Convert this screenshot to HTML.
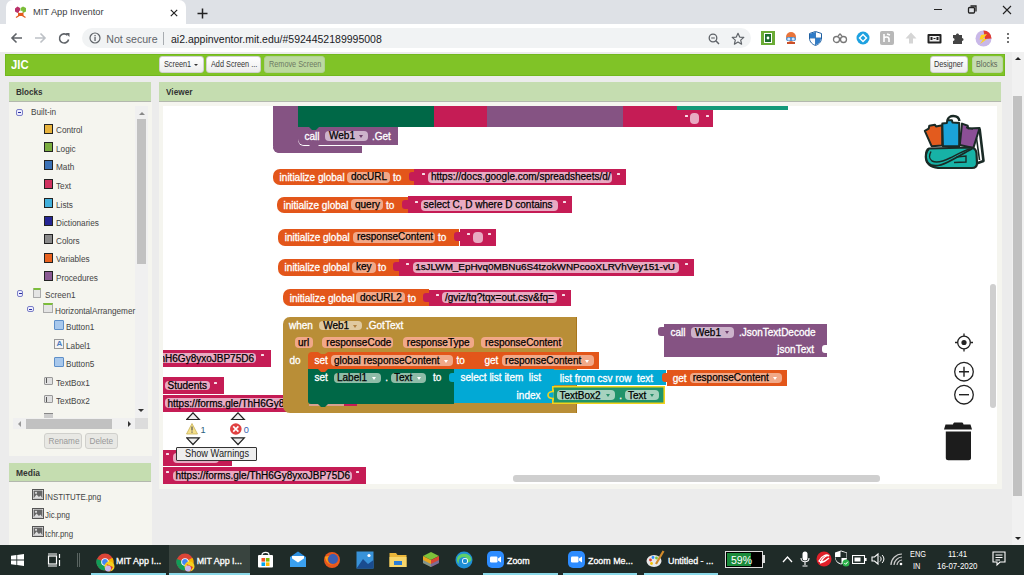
<!DOCTYPE html><html><head><meta charset="utf-8"><style>
*{margin:0;padding:0;box-sizing:border-box}
body{width:1024px;height:575px;overflow:hidden;position:relative;background:#ececec;font-family:"Liberation Sans",sans-serif}
div,span,svg{position:absolute}
.t{white-space:nowrap}
</style></head><body>
<div style="left:0px;top:0px;width:1024px;height:24px;background:#dee1e6;"></div>
<div style="left:6px;top:0;width:180px;height:24px;background:#fff;border-radius:7px 7px 0 0"></div>
<svg style="left:14px;top:5px" width="14" height="14" viewBox="0 0 14 14"><path d="M1 3.5 L3.5 1.5 L6 3 L6 6.5 L3.5 8 L1 6.5Z" fill="#b9316a"/><path d="M6.5 3 L9 1.5 L12 3 L12 6.5 L9 8 L6.5 6.5Z" fill="#7cbd3a"/><rect x="4" y="7.5" width="5.5" height="3.5" fill="#e35b1e"/><path d="M2 12.5 L6.7 9.5 L11.5 12.5" stroke="#e35b1e" stroke-width="1.3" fill="none"/><rect x="5" y="5.8" width="3.5" height="2" fill="#fff"/></svg>
<div class="t" style="left:33px;top:6px;height:12px;line-height:12px;font-size:9.3px;color:#3c4043;">MIT App Inventor</div>
<svg style="left:170px;top:8.5px" width="8" height="8" viewBox="0 0 8 8"><path d="M0.8 0.8 L7.2 7.2 M7.2 0.8 L0.8 7.2" stroke="#222" stroke-width="1.2"/></svg>
<svg style="left:197px;top:7.5px" width="11" height="11" viewBox="0 0 11 11"><path d="M5.5 0.5 V10.5 M0.5 5.5 H10.5" stroke="#222" stroke-width="1.5"/></svg>
<div style="left:934px;top:9.2px;width:8px;height:1.3px;background:#222;"></div>
<svg style="left:966px;top:4px" width="12" height="10" viewBox="0 0 12 10"><rect x="2.5" y="3.5" width="6" height="5.5" fill="none" stroke="#222" stroke-width="1.3" rx="1"/><path d="M4.5 2 H10 V7.5" fill="none" stroke="#222" stroke-width="1.3"/></svg>
<svg style="left:1002px;top:4.5px" width="10" height="10" viewBox="0 0 10 10"><path d="M1 1 L9 9 M9 1 L1 9" stroke="#222" stroke-width="1.1"/></svg>
<div style="left:0px;top:24px;width:1024px;height:28px;background:#fff;"></div>
<svg style="left:10px;top:32px" width="13" height="12" viewBox="0 0 13 12"><path d="M12 6 H2 M6.5 1.5 L2 6 L6.5 10.5" stroke="#5f6368" stroke-width="1.6" fill="none"/></svg>
<svg style="left:34px;top:32px" width="13" height="12" viewBox="0 0 13 12"><path d="M1 6 H11 M6.5 1.5 L11 6 L6.5 10.5" stroke="#bdc1c6" stroke-width="1.6" fill="none"/></svg>
<svg style="left:58px;top:31.5px" width="13" height="13" viewBox="0 0 13 13"><path d="M10.6 7.5 A4.6 4.6 0 1 1 9.4 3.2" stroke="#5f6368" stroke-width="1.6" fill="none"/><path d="M7.5 1 H11.5 V5 Z" fill="#5f6368"/></svg>
<div style="left:82px;top:27.7px;width:669px;height:20.5px;background:#f1f3f4;border-radius:10px"></div>
<svg style="left:89px;top:32px" width="12" height="12" viewBox="0 0 12 12"><circle cx="6" cy="6" r="5" fill="none" stroke="#5f6368" stroke-width="1.2"/><rect x="5.4" y="5" width="1.3" height="4" fill="#5f6368"/><rect x="5.4" y="3" width="1.3" height="1.3" fill="#5f6368"/></svg>
<div class="t" style="left:106.3px;top:33.2px;height:12px;line-height:12px;font-size:10.6px;color:#5f6368;">Not secure</div>
<div style="left:162.5px;top:32px;width:1.5px;height:12.5px;background:#a8acb0;"></div>
<div class="t" style="left:171px;top:32.8px;height:12px;line-height:12px;font-size:10.5px;color:#202124;">ai2.appinventor.mit.edu/#5924452189995008</div>
<svg style="left:708px;top:33px" width="12" height="12" viewBox="0 0 12 12"><circle cx="5" cy="5" r="3.8" fill="none" stroke="#5f6368" stroke-width="1.3"/><path d="M7.8 7.8 L11 11" stroke="#5f6368" stroke-width="1.5"/><path d="M3.2 5 H6.8" stroke="#5f6368" stroke-width="1.1"/></svg>
<svg style="left:731px;top:31.5px" width="14" height="14" viewBox="0 0 14 14"><path d="M7 1.3 L8.7 5.1 L12.8 5.4 L9.7 8.1 L10.6 12.2 L7 10 L3.4 12.2 L4.3 8.1 L1.2 5.4 L5.3 5.1 Z" fill="none" stroke="#5f6368" stroke-width="1.2" stroke-linejoin="round"/></svg>
<svg style="left:761px;top:31px" width="14" height="14" viewBox="0 0 14 14"><rect x="0" y="0" width="14" height="14" fill="#6aab35"/><rect x="3" y="2" width="8" height="10" fill="#fff"/><rect x="4" y="3" width="6" height="8" fill="#1d6b2f"/><circle cx="7" cy="7" r="1.4" fill="#fff"/></svg>
<svg style="left:784px;top:31px" width="14" height="14" viewBox="0 0 14 14"><circle cx="7" cy="6" r="5" fill="#e8743b"/><rect x="2" y="6" width="10" height="4" rx="2" fill="#4a8fd0"/><circle cx="4.8" cy="8" r="1.5" fill="#cfe6ff"/><circle cx="9.2" cy="8" r="1.5" fill="#cfe6ff"/><rect x="3" y="11" width="8" height="2" fill="#c94f2a"/></svg>
<svg style="left:809px;top:31px" width="13" height="15" viewBox="0 0 13 15"><path d="M6.5 0.5 L12.5 2.5 V7 C12.5 11 9.5 13.5 6.5 14.5 C3.5 13.5 0.5 11 0.5 7 V2.5 Z" fill="#fff" stroke="#1f5fa0" stroke-width="1"/><path d="M6.5 1 V14 M1 7 H12" stroke="#1f5fa0" stroke-width="0.8"/><path d="M1 2.7 L6.5 1 V7 H1Z M6.5 7 H12 C12 10.5 9.5 13 6.5 14Z" fill="#2f7cc8"/></svg>
<svg style="left:832px;top:32px" width="16" height="12" viewBox="0 0 16 12"><circle cx="4.5" cy="7.5" r="3" fill="none" stroke="#777" stroke-width="1.3"/><circle cx="11.5" cy="7.5" r="3" fill="none" stroke="#777" stroke-width="1.3"/><path d="M6 4 L8 2 L10 4" fill="none" stroke="#777" stroke-width="1.3"/></svg>
<svg style="left:856px;top:31px" width="14" height="14" viewBox="0 0 14 14"><circle cx="7" cy="7" r="6.5" fill="#1da1e0"/><path d="M7 2.5 L11.5 7 L7 11.5 L2.5 7Z" fill="#fff"/><path d="M7 4.5 L9.5 7 L7 9.5 L4.5 7Z" fill="#1da1e0"/></svg>
<svg style="left:880px;top:31px" width="14" height="14" viewBox="0 0 14 14"><rect x="0" y="0" width="14" height="14" rx="2" fill="#b8b8b8"/><path d="M4 3 V11 M4 7 C5 5.5 9 5.5 9 8 V11 M7 3 L10 4" stroke="#fff" stroke-width="1.6" fill="none"/></svg>
<svg style="left:904px;top:31px" width="14" height="14" viewBox="0 0 14 14"><path d="M7 1.5 L12.5 7.5 H9 V12.5 H5 V7.5 H1.5Z" fill="#d5d5d5"/></svg>
<svg style="left:927px;top:31.5px" width="15" height="13" viewBox="0 0 15 13"><rect x="0.5" y="2" width="14" height="9.5" rx="1" fill="#222"/><rect x="2.5" y="4" width="10" height="5.5" fill="#eee"/><rect x="3.5" y="5" width="2" height="3" fill="#222"/><rect x="9.5" y="5" width="2" height="3" fill="#222"/><rect x="6.5" y="6" width="2" height="1" fill="#222"/></svg>
<svg style="left:952px;top:31px" width="14" height="14" viewBox="0 0 14 14"><path d="M1 4 H4 C4 2 7 2 7 4 H10 V7 C12 7 12 10 10 10 V13 H1 V10 C3 10 3 7 1 7Z" fill="#444"/></svg>
<svg style="left:975px;top:29.5px" width="17" height="17" viewBox="0 0 17 17"><circle cx="8.5" cy="8.5" r="8" fill="#c9b8e8"/><path d="M8.5 0.5 A8 8 0 0 1 16.5 8.5 L10 9 Z" fill="#e23b2e"/><path d="M6 5 L12 4 L8 9 L12 9 L5 14 L8 9.5 L4.5 9.5Z" fill="#ffd21f"/></svg>
<div style="left:1007px;top:33px;width:2.2px;height:2.2px;background:#444;border-radius:1px"></div>
<div style="left:1007px;top:37px;width:2.2px;height:2.2px;background:#444;border-radius:1px"></div>
<div style="left:1007px;top:41px;width:2.2px;height:2.2px;background:#444;border-radius:1px"></div>
<div style="left:5px;top:54px;width:1000px;height:21.6px;background:#80c327;box-shadow:inset 0 0 0 1px #72b81e"></div>
<div class="t" style="left:11px;top:57.2px;height:16px;line-height:16px;font-size:13px;color:#fff;font-weight:bold;transform:scaleX(0.87);transform-origin:left">JIC</div>
<div style="left:159px;top:56.3px;width:44.5px;height:16.4px;background:linear-gradient(#fff,#ececec);border:1px solid #cfcfcf;border-radius:3px"></div>
<div class="t" style="left:163.5px;top:57.3px;height:13px;line-height:13px;font-size:9.5px;color:#333;transform:scaleX(0.768);transform-origin:left">Screen1</div>
<div style="left:194px;top:64px;width:0;height:0;border-left:2px solid transparent;border-right:2px solid transparent;border-top:2.5px solid #333"></div>
<div style="left:206.4px;top:56.3px;width:54.599999999999994px;height:16.4px;background:linear-gradient(#fff,#ececec);border:1px solid #cfcfcf;border-radius:3px"></div>
<div class="t" style="left:210.9px;top:57.3px;height:13px;line-height:13px;font-size:9.5px;color:#333;transform:scaleX(0.768);transform-origin:left">Add Screen ...</div>
<div style="left:264px;top:56.3px;width:61px;height:16.4px;background:#bcd9a0;border:1px solid #b0cf93;border-radius:3px"></div>
<div class="t" style="left:268.9px;top:57.3px;height:13px;line-height:13px;font-size:9.5px;color:#6d7a63;transform:scaleX(0.768);transform-origin:left">Remove Screen</div>
<div style="left:930px;top:56.3px;width:38px;height:16.4px;background:linear-gradient(#fff,#ececec);border:1px solid #cfcfcf;border-radius:3px"></div>
<div class="t" style="left:934.2px;top:57.3px;height:13px;line-height:13px;font-size:9.5px;color:#333;transform:scaleX(0.768);transform-origin:left">Designer</div>
<div style="left:972px;top:56.3px;width:30.700000000000045px;height:16.4px;background:#c5ddb0;border:1px solid #b9d3a2;border-radius:3px"></div>
<div class="t" style="left:976.3px;top:57.3px;height:13px;line-height:13px;font-size:9.5px;color:#5e6658;transform:scaleX(0.768);transform-origin:left">Blocks</div>
<div style="left:9px;top:82px;width:142px;height:19.5px;background:#c5ddb0;border-bottom:1px solid #b3b8ae"></div>
<div class="t" style="left:15.5px;top:84.3px;height:15px;line-height:15px;font-size:9.6px;color:#333;font-weight:bold;transform:scaleX(0.845);transform-origin:left">Blocks</div>
<div style="left:9px;top:101.5px;width:143px;height:354.5px;background:#f5f5ef;"></div>
<div style="left:135.2px;top:106px;width:12.5px;height:312px;background:#f0f0f0;"></div>
<div style="left:136.7px;top:119.2px;width:9.3px;height:145px;background:#c1c1c1;"></div>
<div style="left:138.5px;top:111.5px;width:0;height:0;border-left:3px solid transparent;border-right:3px solid transparent;border-bottom:3px solid #888"></div>
<div style="left:138px;top:409px;width:0;height:0;border-left:3.5px solid transparent;border-right:3.5px solid transparent;border-top:3.5px solid #333"></div>
<div style="left:13px;top:418px;width:122px;height:11.4px;background:#f0f0f0;"></div>
<div style="left:135px;top:418px;width:12.6px;height:11.4px;background:#dcdcdc;"></div>
<div style="left:25.6px;top:419px;width:86.8px;height:9.6px;background:#c1c1c1;"></div>
<div style="left:17.5px;top:420.5px;width:0;height:0;border-top:3px solid transparent;border-bottom:3px solid transparent;border-right:3px solid #999"></div>
<div style="left:127.5px;top:420.5px;width:0;height:0;border-top:3.5px solid transparent;border-bottom:3.5px solid transparent;border-left:3.5px solid #333"></div>
<div style="left:16.4px;top:109.3px;width:6.6px;height:6.6px;border:1px solid #7b7fc8;border-radius:2px;background:#eef"></div>
<div style="left:18.2px;top:112.1px;width:3px;height:1.1px;background:#2a2f9a;"></div>
<div class="t" style="left:30.5px;top:106.1px;height:12px;line-height:12px;font-size:9.02px;color:#444;transform:scaleX(0.91);transform-origin:left">Built-in</div>
<div style="left:44px;top:123.5px;width:9px;height:10px;background:#e8b33c;border:1px solid #222"></div>
<div class="t" style="left:55.5px;top:124.30000000000001px;height:12px;line-height:12px;font-size:9.02px;color:#444;transform:scaleX(0.91);transform-origin:left">Control</div>
<div style="left:44px;top:142.4px;width:9px;height:10px;background:#7aad3f;border:1px solid #222"></div>
<div class="t" style="left:55.5px;top:143.20000000000002px;height:12px;line-height:12px;font-size:9.02px;color:#444;transform:scaleX(0.91);transform-origin:left">Logic</div>
<div style="left:44px;top:160.3px;width:9px;height:10px;background:#3c72b6;border:1px solid #222"></div>
<div class="t" style="left:55.5px;top:161.10000000000002px;height:12px;line-height:12px;font-size:9.02px;color:#444;transform:scaleX(0.91);transform-origin:left">Math</div>
<div style="left:44px;top:178.7px;width:9px;height:10px;background:#d0315f;border:1px solid #222"></div>
<div class="t" style="left:55.5px;top:179.5px;height:12px;line-height:12px;font-size:9.02px;color:#444;transform:scaleX(0.91);transform-origin:left">Text</div>
<div style="left:44px;top:197.8px;width:9px;height:10px;background:#42b0dc;border:1px solid #222"></div>
<div class="t" style="left:55.5px;top:198.60000000000002px;height:12px;line-height:12px;font-size:9.02px;color:#444;transform:scaleX(0.91);transform-origin:left">Lists</div>
<div style="left:44px;top:215.8px;width:9px;height:10px;background:#252594;border:1px solid #222"></div>
<div class="t" style="left:55.5px;top:216.60000000000002px;height:12px;line-height:12px;font-size:9.02px;color:#444;transform:scaleX(0.91);transform-origin:left">Dictionaries</div>
<div style="left:44px;top:234.2px;width:9px;height:10px;background:#8a8a8a;border:1px solid #222"></div>
<div class="t" style="left:55.5px;top:235.0px;height:12px;line-height:12px;font-size:9.02px;color:#444;transform:scaleX(0.91);transform-origin:left">Colors</div>
<div style="left:44px;top:252.5px;width:9px;height:10px;background:#e8621f;border:1px solid #222"></div>
<div class="t" style="left:55.5px;top:253.3px;height:12px;line-height:12px;font-size:9.02px;color:#444;transform:scaleX(0.91);transform-origin:left">Variables</div>
<div style="left:44px;top:271.3px;width:9px;height:10px;background:#8a5a92;border:1px solid #222"></div>
<div class="t" style="left:55.5px;top:272.1px;height:12px;line-height:12px;font-size:9.02px;color:#444;transform:scaleX(0.91);transform-origin:left">Procedures</div>
<div style="left:16.8px;top:290.0px;width:6.6px;height:6.6px;border:1px solid #7b7fc8;border-radius:2px;background:#eef"></div>
<div style="left:18.6px;top:292.8px;width:3px;height:1.1px;background:#2a2f9a;"></div>
<div style="left:33.2px;top:287.5px;width:7.6px;height:10.3px;background:#e4e4e4;border:1px solid #aaa;border-top:2px solid #7cbd3a;border-radius:1px"></div>
<div class="t" style="left:44.5px;top:288.8px;height:12px;line-height:12px;font-size:9.02px;color:#444;transform:scaleX(0.91);transform-origin:left">Screen1</div>
<div style="left:27.1px;top:305.7px;width:6.6px;height:6.6px;border:1px solid #7b7fc8;border-radius:2px;background:#eef"></div>
<div style="left:28.900000000000002px;top:308.5px;width:3px;height:1.1px;background:#2a2f9a;"></div>
<div style="left:42.8px;top:303.2px;width:9.9px;height:10.3px;background:#e4e4e4;border:1px solid #aaa;border-top:2.5px solid #7cbd3a"></div>
<div class="t" style="left:54.8px;top:304.7px;height:12px;line-height:12px;font-size:9.02px;color:#444;transform:scaleX(0.91);transform-origin:left">HorizontalArrangemer</div>
<div style="left:54.4px;top:320.3px;width:9.3px;height:9.7px;background:#a8c8ec;border:1px solid #5e8fc8;border-radius:1px"></div>
<div class="t" style="left:66.3px;top:321.4px;height:12px;line-height:12px;font-size:9.02px;color:#444;transform:scaleX(0.91);transform-origin:left">Button1</div>
<div style="left:54.4px;top:338.8px;width:9.3px;height:10px;background:#f4f4f4;border:1px solid #999"></div>
<div class="t" style="left:56.4px;top:338.5px;height:10px;line-height:10px;font-size:8px;color:#4a7cc0;font-weight:bold">A</div>
<div class="t" style="left:66.3px;top:339.8px;height:12px;line-height:12px;font-size:9.02px;color:#444;transform:scaleX(0.91);transform-origin:left">Label1</div>
<div style="left:54.4px;top:357.4px;width:9.3px;height:9.7px;background:#a8c8ec;border:1px solid #5e8fc8;border-radius:1px"></div>
<div class="t" style="left:66.3px;top:357.9px;height:12px;line-height:12px;font-size:9.02px;color:#444;transform:scaleX(0.91);transform-origin:left">Button5</div>
<div style="left:43.6px;top:376.6px;width:9.4px;height:8px;background:#e0e0e0;border:1px solid #999;border-radius:1px"></div>
<div style="left:45.9px;top:378.1px;width:1px;height:5px;background:#555;"></div>
<div class="t" style="left:56px;top:376.5px;height:12px;line-height:12px;font-size:9.02px;color:#444;transform:scaleX(0.91);transform-origin:left">TextBox1</div>
<div style="left:43.6px;top:395px;width:9.4px;height:8px;background:#e0e0e0;border:1px solid #999;border-radius:1px"></div>
<div style="left:45.9px;top:396.5px;width:1px;height:5px;background:#555;"></div>
<div class="t" style="left:56px;top:394.5px;height:12px;line-height:12px;font-size:9.02px;color:#444;transform:scaleX(0.91);transform-origin:left">TextBox2</div>
<div style="left:43.6px;top:413px;width:9.4px;height:5px;background:#ccc;border-top:1px solid #888"></div>
<div style="left:43.6px;top:432.6px;width:38.4px;height:16.8px;background:#e8e8e4;border:1px solid #d0d0cc;border-radius:3px"></div>
<div class="t" style="left:48.5px;top:434.5px;height:13px;line-height:13px;font-size:8.2px;color:#999;">Rename</div>
<div style="left:85px;top:432.6px;width:32.6px;height:16.8px;background:#e8e8e4;border:1px solid #d0d0cc;border-radius:3px"></div>
<div class="t" style="left:89.5px;top:434.5px;height:13px;line-height:13px;font-size:8.2px;color:#999;">Delete</div>
<div style="left:9px;top:463px;width:142px;height:19.3px;background:#c5ddb0;border-bottom:1px solid #b3b8ae"></div>
<div class="t" style="left:16px;top:465.3px;height:15px;line-height:15px;font-size:9.6px;color:#333;font-weight:bold;transform:scaleX(0.88);transform-origin:left">Media</div>
<div style="left:9px;top:482.3px;width:143px;height:62.7px;background:#f5f5ef;"></div>
<svg style="left:32px;top:489.3px" width="12" height="11" viewBox="0 0 12 11"><rect x="0.5" y="0.5" width="11" height="10" fill="#fff" stroke="#555" stroke-width="1"/><rect x="1.5" y="1.5" width="9" height="8" fill="#666"/><path d="M1.5 9.5 L4.5 5.5 L7 8 L8.5 6.5 L10.5 9.5 Z" fill="#ddd"/><circle cx="4" cy="3.8" r="1.1" fill="#ddd"/></svg>
<div class="t" style="left:45.3px;top:490.5px;height:12px;line-height:12px;font-size:8.690000000000001px;color:#444;transform:scaleX(0.91);transform-origin:left">INSTITUTE.png</div>
<svg style="left:32px;top:508px" width="12" height="11" viewBox="0 0 12 11"><rect x="0.5" y="0.5" width="11" height="10" fill="#fff" stroke="#555" stroke-width="1"/><rect x="1.5" y="1.5" width="9" height="8" fill="#666"/><path d="M1.5 9.5 L4.5 5.5 L7 8 L8.5 6.5 L10.5 9.5 Z" fill="#ddd"/><circle cx="4" cy="3.8" r="1.1" fill="#ddd"/></svg>
<div class="t" style="left:45.3px;top:509.29999999999995px;height:12px;line-height:12px;font-size:8.690000000000001px;color:#444;transform:scaleX(0.91);transform-origin:left">Jic.png</div>
<svg style="left:32px;top:526.3px" width="12" height="11" viewBox="0 0 12 11"><rect x="0.5" y="0.5" width="11" height="10" fill="#fff" stroke="#555" stroke-width="1"/><rect x="1.5" y="1.5" width="9" height="8" fill="#666"/><path d="M1.5 9.5 L4.5 5.5 L7 8 L8.5 6.5 L10.5 9.5 Z" fill="#ddd"/><circle cx="4" cy="3.8" r="1.1" fill="#ddd"/></svg>
<div class="t" style="left:45.3px;top:527.5px;height:12px;line-height:12px;font-size:8.690000000000001px;color:#444;transform:scaleX(0.91);transform-origin:left">tchr.png</div>
<div style="left:159px;top:82px;width:842px;height:19.5px;background:#c5ddb0;border-bottom:1px solid #b3b8ae"></div>
<div class="t" style="left:165.8px;top:84.3px;height:15px;line-height:15px;font-size:9.6px;color:#333;font-weight:bold;transform:scaleX(0.86);transform-origin:left">Viewer</div>
<div style="left:159px;top:101.5px;width:843px;height:387px;background:#f5f5ef;"></div>
<div style="left:163px;top:106px;width:834px;height:378px;background:#fff;"></div>
<div style="left:163px;top:106px;width:834px;height:378px;overflow:hidden">
<div style="left:109.6px;top:-6px;width:25px;height:53.1px;background:#855383;border-bottom-left-radius:7px"></div>
<div style="left:109.6px;top:40.5px;width:89px;height:6.6px;background:#855383;border-bottom-left-radius:7px"></div>
<div style="left:134.6px;top:-6px;width:136.2px;height:27px;background:#006847;"></div>
<div style="left:270.8px;top:-6px;width:53.2px;height:27px;background:#c51c55;"></div>
<div style="left:324px;top:-6px;width:136px;height:27px;background:#855383;"></div>
<div style="left:460px;top:-6px;width:54px;height:27px;background:#c51c55;"></div>
<div style="left:514px;top:3.5px;width:36px;height:17.3px;background:#c51c55;"></div>
<div style="left:514px;top:0.4px;width:111px;height:3.4px;background:#15997a;"></div>
<div style="left:527.0px;top:6.7px;width:8.6px;height:11.1px;background:#e8aac2;border-radius:4px;"></div>
<div class="t" style="left:531px;top:6.25px;height:12px;line-height:12px;font-size:10px;color:#000;-webkit-text-stroke:0.25px #000"></div>
<div style="left:522px;top:8.5px;width:3px;height:2.2px;background:#f8e0ea;border-radius:0.5px"></div>
<div style="left:543px;top:8.5px;width:3px;height:2.2px;background:#f8e0ea;border-radius:0.5px"></div>
<div style="left:127px;top:21px;width:71.6px;height:26px;background:#855383;"></div>
<div style="left:134.8px;top:31.0px;width:64px;height:9px;border-left:1px solid #f4eef4;border-bottom:1.2px solid #fff;border-bottom-left-radius:6px"></div>
<div style="left:135px;top:21px;width:100px;height:17.6px;background:#855383;border-bottom-left-radius:6px"></div>
<div style="left:145.8px;top:21.0px;width:10px;height:0;border-top:3px solid #006847;border-left:3px solid transparent;border-right:3px solid transparent"></div>
<div style="left:145.8px;top:38.6px;width:10px;height:0;border-top:3px solid #855383;border-left:3px solid transparent;border-right:3px solid transparent"></div>
<div class="t" style="left:141.5px;top:24.9px;height:12px;line-height:12px;font-size:10px;color:#fff;-webkit-text-stroke:0.3px #fff">call</div>
<div style="left:162.0px;top:24.7px;width:43.4px;height:10.3px;background:#cdb3cb;border-radius:4px;"></div>
<div class="t" style="left:166px;top:24.25px;height:12px;line-height:12px;font-size:10px;color:#000;-webkit-text-stroke:0.25px #000">Web1</div>
<div style="left:196.4px;top:28.8px;width:0;height:0;border-left:2.5px solid transparent;border-right:2.5px solid transparent;border-top:3px solid #6d3f6b;"></div>
<div class="t" style="left:209px;top:24.9px;height:12px;line-height:12px;font-size:10px;color:#fff;-webkit-text-stroke:0.3px #fff">.Get</div>
<div style="left:110.2px;top:62.8px;width:141.2px;height:16.6px;background:#e3561a;border-radius:7px 0 0 7px"></div>
<div class="t" style="left:116.6px;top:66.1px;height:12px;line-height:12px;font-size:10px;color:#fff;-webkit-text-stroke:0.3px #fff">initialize global</div>
<div style="left:184.0px;top:65.7px;width:43.0px;height:11.3px;background:#f1a888;border-radius:4px;"></div>
<div class="t" style="left:188px;top:65.25px;height:12px;line-height:12px;font-size:10px;color:#000;-webkit-text-stroke:0.25px #000">docURL</div>
<div class="t" style="left:230px;top:66.1px;height:12px;line-height:12px;font-size:10px;color:#fff;-webkit-text-stroke:0.3px #fff">to</div>
<div style="left:251.4px;top:62.9px;width:211.6px;height:16.4px;background:#c51c55;"></div>
<div style="left:245.5px;top:66.0px;width:7px;height:9px;background:#c51c55;border-radius:3px 0 0 3px;"></div>
<div style="left:258.5px;top:66.5px;width:3px;height:2.2px;background:#f8e0ea;border-radius:0.5px"></div>
<div style="left:265.0px;top:65.7px;width:184.0px;height:11.0px;background:#e8aac2;border-radius:4px;"></div>
<div class="t" style="left:268px;top:65.25px;height:12px;line-height:12px;font-size:10px;color:#000;-webkit-text-stroke:0.25px #000">https://docs.google.com/spreadsheets/d/</div>
<div style="left:453.5px;top:66.5px;width:3px;height:2.2px;background:#f8e0ea;border-radius:0.5px"></div>
<div style="left:114px;top:90.5px;width:130.6px;height:16.6px;background:#e3561a;border-radius:7px 0 0 7px"></div>
<div class="t" style="left:120.5px;top:93.9px;height:12px;line-height:12px;font-size:10px;color:#fff;-webkit-text-stroke:0.3px #fff">initialize global</div>
<div style="left:188.0px;top:93.4px;width:32.0px;height:11.0px;background:#f1a888;border-radius:4px;"></div>
<div class="t" style="left:192px;top:92.95px;height:12px;line-height:12px;font-size:10px;color:#000;-webkit-text-stroke:0.25px #000">query</div>
<div class="t" style="left:223px;top:93.9px;height:12px;line-height:12px;font-size:10px;color:#fff;-webkit-text-stroke:0.3px #fff">to</div>
<div style="left:244.6px;top:90.4px;width:164.2px;height:17px;background:#c51c55;"></div>
<div style="left:238.6px;top:93.7px;width:7px;height:9px;background:#c51c55;border-radius:3px 0 0 3px;"></div>
<div style="left:251.5px;top:94.5px;width:3px;height:2.2px;background:#f8e0ea;border-radius:0.5px"></div>
<div style="left:257.6px;top:93.5px;width:137.4px;height:11.1px;background:#e8aac2;border-radius:4px;"></div>
<div class="t" style="left:260.6px;top:93.05px;height:12px;line-height:12px;font-size:10px;color:#000;-webkit-text-stroke:0.25px #000">select C, D where D contains</div>
<div style="left:399.5px;top:94.5px;width:3px;height:2.2px;background:#f8e0ea;border-radius:0.5px"></div>
<div style="left:115.3px;top:122.8px;width:180.3px;height:17.2px;background:#e3561a;border-radius:7px 0 0 7px"></div>
<div class="t" style="left:121.7px;top:126.4px;height:12px;line-height:12px;font-size:10px;color:#fff;-webkit-text-stroke:0.3px #fff">initialize global</div>
<div style="left:189.9px;top:125.8px;width:82.0px;height:11.0px;background:#f1a888;border-radius:4px;"></div>
<div class="t" style="left:193.9px;top:125.35px;height:12px;line-height:12px;font-size:10px;color:#000;-webkit-text-stroke:0.25px #000">responseContent</div>
<div class="t" style="left:274.9px;top:126.4px;height:12px;line-height:12px;font-size:10px;color:#fff;-webkit-text-stroke:0.3px #fff">to</div>
<div style="left:296.8px;top:123px;width:36.2px;height:16.6px;background:#c51c55;"></div>
<div style="left:290.8px;top:126.3px;width:7px;height:9px;background:#c51c55;border-radius:3px 0 0 3px;"></div>
<div style="left:304px;top:127.0px;width:3px;height:2.2px;background:#f8e0ea;border-radius:0.5px"></div>
<div style="left:310.0px;top:126.0px;width:9.5px;height:10.5px;background:#e8aac2;border-radius:4px;"></div>
<div class="t" style="left:314px;top:125.55px;height:12px;line-height:12px;font-size:10px;color:#000;-webkit-text-stroke:0.25px #000"></div>
<div style="left:324.5px;top:127.0px;width:3px;height:2.2px;background:#f8e0ea;border-radius:0.5px"></div>
<div style="left:115.2px;top:152.8px;width:120.8px;height:17px;background:#e3561a;border-radius:7px 0 0 7px"></div>
<div class="t" style="left:121.6px;top:156.3px;height:12px;line-height:12px;font-size:10px;color:#fff;-webkit-text-stroke:0.3px #fff">initialize global</div>
<div style="left:189.0px;top:155.8px;width:23.5px;height:11.0px;background:#f1a888;border-radius:4px;"></div>
<div class="t" style="left:193px;top:155.35px;height:12px;line-height:12px;font-size:10px;color:#000;-webkit-text-stroke:0.25px #000">key</div>
<div class="t" style="left:215px;top:156.3px;height:12px;line-height:12px;font-size:10px;color:#fff;-webkit-text-stroke:0.3px #fff">to</div>
<div style="left:236px;top:153px;width:294.6px;height:16.6px;background:#c51c55;"></div>
<div style="left:230.0px;top:156.2px;width:7px;height:9px;background:#c51c55;border-radius:3px 0 0 3px;"></div>
<div style="left:243px;top:157.0px;width:3px;height:2.2px;background:#f8e0ea;border-radius:0.5px"></div>
<div style="left:249.7px;top:155.8px;width:266.8px;height:11.0px;background:#e8aac2;border-radius:4px;"></div>
<div class="t" style="left:252.2px;top:155.35px;height:12px;line-height:12px;font-size:9.9px;color:#000;-webkit-text-stroke:0.25px #000">1sJLWM_EpHvq0MBNu6S4tzokWNPcooXLRVhVey151-vU</div>
<div style="left:521.5px;top:157.0px;width:3px;height:2.2px;background:#f8e0ea;border-radius:0.5px"></div>
<div style="left:120.3px;top:183px;width:145.7px;height:17px;background:#e3561a;border-radius:7px 0 0 7px"></div>
<div class="t" style="left:126.7px;top:186.5px;height:12px;line-height:12px;font-size:10px;color:#fff;-webkit-text-stroke:0.3px #fff">initialize global</div>
<div style="left:193.0px;top:186.0px;width:48.7px;height:11.0px;background:#f1a888;border-radius:4px;"></div>
<div class="t" style="left:197px;top:185.55px;height:12px;line-height:12px;font-size:10px;color:#000;-webkit-text-stroke:0.25px #000">docURL2</div>
<div class="t" style="left:244.7px;top:186.5px;height:12px;line-height:12px;font-size:10px;color:#fff;-webkit-text-stroke:0.3px #fff">to</div>
<div style="left:266px;top:183.5px;width:142.3px;height:16.5px;background:#c51c55;"></div>
<div style="left:260.0px;top:186.7px;width:7px;height:9px;background:#c51c55;border-radius:3px 0 0 3px;"></div>
<div style="left:273px;top:187.5px;width:3px;height:2.2px;background:#f8e0ea;border-radius:0.5px"></div>
<div style="left:279.0px;top:186.2px;width:114.7px;height:11.0px;background:#e8aac2;border-radius:4px;"></div>
<div class="t" style="left:282px;top:185.75px;height:12px;line-height:12px;font-size:10px;color:#000;-webkit-text-stroke:0.25px #000">/gviz/tq?tqx=out.csv&amp;fq=</div>
<div style="left:398.5px;top:187.5px;width:3px;height:2.2px;background:#f8e0ea;border-radius:0.5px"></div>
<div style="left:0px;top:243.5px;width:107.6px;height:17.2px;background:#c51c55;"></div>
<div style="left:-43.0px;top:247.2px;width:136.4px;height:9.8px;background:#e8aac2;border-radius:4px;"></div>
<div class="t" style="left:-83.5px;top:246.75px;height:12px;line-height:12px;font-size:10px;color:#000;-webkit-text-stroke:0.25px #000">https://forms.gle/ThH6Gy8yxoJBP75D6</div>
<div style="left:97.5px;top:248.0px;width:3px;height:2.2px;background:#f8e0ea;border-radius:0.5px"></div>
<div style="left:0px;top:271.3px;width:60.7px;height:16.7px;background:#c51c55;"></div>
<div style="left:1.5px;top:274.6px;width:45.3px;height:9.8px;background:#e8aac2;border-radius:4px;"></div>
<div class="t" style="left:4.5px;top:274.15px;height:12px;line-height:12px;font-size:10px;color:#000;-webkit-text-stroke:0.25px #000">Students</div>
<div style="left:51px;top:275.5px;width:3px;height:2.2px;background:#f8e0ea;border-radius:0.5px"></div>
<div style="left:0px;top:288.5px;width:125px;height:17.2px;background:#c51c55;"></div>
<div style="left:1.5px;top:292.4px;width:135.5px;height:10.1px;background:#e8aac2;border-radius:4px;"></div>
<div class="t" style="left:4.5px;top:291.95px;height:12px;line-height:12px;font-size:10px;color:#000;-webkit-text-stroke:0.25px #000">https://forms.gle/ThH6Gy8yxoJBP75D6</div>
<div style="left:119.7px;top:211.4px;width:294px;height:95.2px;background:#b98e37;border-radius:7px 0 0 7px;box-shadow:inset -1px 0 0 #a8761c"></div>
<div class="t" style="left:126px;top:213.5px;height:12px;line-height:12px;font-size:10px;color:#fff;-webkit-text-stroke:0.3px #fff">when</div>
<div style="left:156.2px;top:214.7px;width:42.6px;height:9.8px;background:#e0c9a0;border-radius:4px;"></div>
<div class="t" style="left:160.2px;top:214.25px;height:12px;line-height:12px;font-size:10px;color:#000;-webkit-text-stroke:0.25px #000">Web1</div>
<div style="left:189.8px;top:218.6px;width:0;height:0;border-left:2.5px solid transparent;border-right:2.5px solid transparent;border-top:3px solid #b08040;"></div>
<div class="t" style="left:203px;top:213.5px;height:12px;line-height:12px;font-size:10px;color:#fff;-webkit-text-stroke:0.3px #fff">.GotText</div>
<div style="left:132.0px;top:231.3px;width:18.4px;height:10.7px;background:#f1a888;border-radius:4px;"></div>
<div class="t" style="left:135px;top:230.85px;height:12px;line-height:12px;font-size:10px;color:#000;-webkit-text-stroke:0.25px #000">url</div>
<div style="left:159.3px;top:231.3px;width:71.1px;height:10.7px;background:#f1a888;border-radius:4px;"></div>
<div class="t" style="left:163.3px;top:230.85px;height:12px;line-height:12px;font-size:10px;color:#000;-webkit-text-stroke:0.25px #000">responseCode</div>
<div style="left:239.8px;top:231.3px;width:71.7px;height:10.7px;background:#f1a888;border-radius:4px;"></div>
<div class="t" style="left:243.8px;top:230.85px;height:12px;line-height:12px;font-size:10px;color:#000;-webkit-text-stroke:0.25px #000">responseType</div>
<div style="left:318.0px;top:231.3px;width:82.4px;height:10.7px;background:#f1a888;border-radius:4px;"></div>
<div class="t" style="left:322px;top:230.85px;height:12px;line-height:12px;font-size:10px;color:#000;-webkit-text-stroke:0.25px #000">responseContent</div>
<div class="t" style="left:126.5px;top:248.7px;height:12px;line-height:12px;font-size:10px;color:#fff;-webkit-text-stroke:0.3px #fff">do</div>
<div style="left:146px;top:297.6px;width:48px;height:2.6px;background:#d7a08f;"></div>
<div style="left:181px;top:297.6px;width:13px;height:2.6px;background:#c51c55;"></div>
<div style="left:145px;top:245.8px;width:168px;height:17px;background:#e3561a;border-top-left-radius:4px"></div>
<div style="left:155.0px;top:245.8px;width:10px;height:0;border-top:2.5px solid #b98e37;border-left:3px solid transparent;border-right:3px solid transparent"></div>
<div class="t" style="left:151.5px;top:249.0px;height:12px;line-height:12px;font-size:10px;color:#fff;-webkit-text-stroke:0.3px #fff">set</div>
<div style="left:168.0px;top:249.3px;width:121.6px;height:10.4px;background:#f1a888;border-radius:4px;"></div>
<div class="t" style="left:171px;top:248.85px;height:12px;line-height:12px;font-size:10px;color:#000;-webkit-text-stroke:0.25px #000">global responseContent</div>
<div style="left:280.6px;top:253.5px;width:0;height:0;border-left:2.5px solid transparent;border-right:2.5px solid transparent;border-top:3px solid #fff;"></div>
<div class="t" style="left:293.5px;top:249.0px;height:12px;line-height:12px;font-size:10px;color:#fff;-webkit-text-stroke:0.3px #fff">to</div>
<div style="left:313px;top:246px;width:122.6px;height:17px;background:#e3561a;"></div>
<div style="left:307.0px;top:249.5px;width:7px;height:9px;background:#e3561a;border-radius:3px 0 0 3px;"></div>
<div class="t" style="left:321.5px;top:249.0px;height:12px;line-height:12px;font-size:10px;color:#fff;-webkit-text-stroke:0.3px #fff">get</div>
<div style="left:339.1px;top:249.3px;width:92.2px;height:10.4px;background:#f1a888;border-radius:4px;"></div>
<div class="t" style="left:342.1px;top:248.85px;height:12px;line-height:12px;font-size:10px;color:#000;-webkit-text-stroke:0.25px #000">responseContent</div>
<div style="left:422.3px;top:253.5px;width:0;height:0;border-left:2.5px solid transparent;border-right:2.5px solid transparent;border-top:3px solid #fff;"></div>
<div style="left:145px;top:262.6px;width:145.7px;height:35.2px;background:#006847;border-bottom-left-radius:3px"></div>
<div style="left:155.0px;top:262.6px;width:10px;height:0;border-top:3px solid #e3561a;border-left:3px solid transparent;border-right:3px solid transparent"></div>
<div class="t" style="left:151.5px;top:265.7px;height:12px;line-height:12px;font-size:10px;color:#fff;-webkit-text-stroke:0.3px #fff">set</div>
<div style="left:171.0px;top:266.5px;width:47.0px;height:10.2px;background:#8fbca8;border-radius:4px;"></div>
<div class="t" style="left:174px;top:266.05px;height:12px;line-height:12px;font-size:10px;color:#000;-webkit-text-stroke:0.25px #000">Label1</div>
<div style="left:209.0px;top:270.6px;width:0;height:0;border-left:2.5px solid transparent;border-right:2.5px solid transparent;border-top:3px solid #fff;"></div>
<div class="t" style="left:222.2px;top:265.7px;height:12px;line-height:12px;font-size:10px;color:#fff;-webkit-text-stroke:0.3px #fff">.</div>
<div style="left:228.0px;top:266.5px;width:35.2px;height:10.2px;background:#8fbca8;border-radius:4px;"></div>
<div class="t" style="left:231px;top:266.05px;height:12px;line-height:12px;font-size:10px;color:#000;-webkit-text-stroke:0.25px #000">Text</div>
<div style="left:254.2px;top:270.6px;width:0;height:0;border-left:2.5px solid transparent;border-right:2.5px solid transparent;border-top:3px solid #fff;"></div>
<div class="t" style="left:270px;top:265.7px;height:12px;line-height:12px;font-size:10px;color:#fff;-webkit-text-stroke:0.3px #fff">to</div>
<div style="left:154.5px;top:297.6px;width:10px;height:0;border-top:3px solid #006847;border-left:3px solid transparent;border-right:3px solid transparent"></div>
<div style="left:290.7px;top:263.3px;width:100px;height:34.2px;background:#02a9d5;"></div>
<div style="left:285.5px;top:266.5px;width:7px;height:9px;background:#02a9d5;border-radius:3px 0 0 3px;"></div>
<div class="t" style="left:297.5px;top:266.1px;height:12px;line-height:12px;font-size:10px;color:#fff;-webkit-text-stroke:0.3px #fff">select list item&nbsp; list</div>
<div class="t" style="left:353.6px;top:283.9px;height:12px;line-height:12px;font-size:10px;color:#fff;-webkit-text-stroke:0.3px #fff">index</div>
<div style="left:390.3px;top:263.6px;width:112.3px;height:15.8px;background:#02a9d5;"></div>
<div style="left:385.0px;top:266.5px;width:7px;height:9px;background:#02a9d5;border-radius:3px 0 0 3px;"></div>
<div class="t" style="left:396.8px;top:266.7px;height:12px;line-height:12px;font-size:10px;color:#fff;-webkit-text-stroke:0.3px #fff">list from csv row&nbsp; text</div>
<div style="left:504px;top:263.6px;width:119.7px;height:16.4px;background:#e3561a;"></div>
<div style="left:498.5px;top:266.5px;width:7px;height:9px;background:#e3561a;border-radius:3px 0 0 3px;"></div>
<div class="t" style="left:509.7px;top:266.9px;height:12px;line-height:12px;font-size:10px;color:#fff;-webkit-text-stroke:0.3px #fff">get</div>
<div style="left:526.7px;top:266.7px;width:92.7px;height:10.3px;background:#f1a888;border-radius:4px;"></div>
<div class="t" style="left:529.7px;top:266.25px;height:12px;line-height:12px;font-size:10px;color:#000;-webkit-text-stroke:0.25px #000">responseContent</div>
<div style="left:610.4px;top:270.9px;width:0;height:0;border-left:2.5px solid transparent;border-right:2.5px solid transparent;border-top:3px solid #fff;"></div>
<div style="left:389px;top:280px;width:112.9px;height:17.7px;background:#1f936a;box-shadow:inset 0 0 0 1.6px #f2d31b"></div>
<svg style="left:384px;top:282.5px" width="7" height="12" viewBox="0 0 7 12"><path d="M6.5 0.5 V2.5 C3 2.5 1 3.5 1 6 C1 8.5 3 9.5 6.5 9.5 V11.5" fill="#02a9d5" stroke="#f2d31b" stroke-width="1.6"/></svg>
<div style="left:393.5px;top:284.4px;width:58.4px;height:9.8px;background:#a6d2bf;border-radius:4px;"></div>
<div class="t" style="left:396.5px;top:283.95px;height:12px;line-height:12px;font-size:10px;color:#000;-webkit-text-stroke:0.25px #000">TextBox2</div>
<div style="left:442.9px;top:288.3px;width:0;height:0;border-left:2.5px solid transparent;border-right:2.5px solid transparent;border-top:3px solid #2a8f6c;"></div>
<div class="t" style="left:456.2px;top:283.9px;height:12px;line-height:12px;font-size:10px;color:#fff;-webkit-text-stroke:0.3px #fff">.</div>
<div style="left:462.0px;top:284.4px;width:34.3px;height:9.8px;background:#a6d2bf;border-radius:4px;"></div>
<div class="t" style="left:465px;top:283.95px;height:12px;line-height:12px;font-size:10px;color:#000;-webkit-text-stroke:0.25px #000">Text</div>
<div style="left:487.3px;top:288.3px;width:0;height:0;border-left:2.5px solid transparent;border-right:2.5px solid transparent;border-top:3px solid #2a8f6c;"></div>
<div style="left:500.7px;top:217.8px;width:163.1px;height:33.2px;background:#855383;"></div>
<div style="left:495.2px;top:221.0px;width:7px;height:9px;background:#855383;border-radius:3px 0 0 3px;"></div>
<div class="t" style="left:507.5px;top:221.4px;height:12px;line-height:12px;font-size:10px;color:#fff;-webkit-text-stroke:0.3px #fff">call</div>
<div style="left:528.0px;top:221.0px;width:43.4px;height:10.5px;background:#cdb3cb;border-radius:4px;"></div>
<div class="t" style="left:532px;top:220.55px;height:12px;line-height:12px;font-size:10px;color:#000;-webkit-text-stroke:0.25px #000">Web1</div>
<div style="left:562.4px;top:225.2px;width:0;height:0;border-left:2.5px solid transparent;border-right:2.5px solid transparent;border-top:3px solid #6d3f6b;"></div>
<div class="t" style="left:575.9px;top:221.4px;height:12px;line-height:12px;font-size:10px;color:#fff;-webkit-text-stroke:0.3px #fff">.JsonTextDecode</div>
<div class="t" style="left:614.3px;top:238.1px;height:12px;line-height:12px;font-size:10px;color:#fff;-webkit-text-stroke:0.3px #fff">jsonText</div>
<div style="left:658.5px;top:239px;width:5.3px;height:8px;background:#fff;border-radius:3px 0 0 3px"></div>
<div style="left:0px;top:343.8px;width:69px;height:16.2px;background:#c51c55;"></div>
<div style="left:3px;top:347.0px;width:3px;height:2.2px;background:#f8e0ea;border-radius:0.5px"></div>
<div style="left:9.5px;top:346.6px;width:46.5px;height:10.8px;background:#e8aac2;border-radius:4px;"></div>
<div class="t" style="left:13.5px;top:346.15px;height:12px;line-height:12px;font-size:10px;color:#000;-webkit-text-stroke:0.25px #000"></div>
<div style="left:0px;top:361px;width:102.8px;height:16.8px;background:#c51c55;"></div>
<div style="left:0px;top:361px;width:202.8px;height:16.8px;background:#c51c55;"></div>
<div style="left:3px;top:364.5px;width:3px;height:2.2px;background:#f8e0ea;border-radius:0.5px"></div>
<div style="left:9.5px;top:364.5px;width:179.3px;height:10.7px;background:#e8aac2;border-radius:4px;"></div>
<div class="t" style="left:12.5px;top:364.05px;height:12px;line-height:12px;font-size:10px;color:#000;-webkit-text-stroke:0.25px #000">https://forms.gle/ThH6Gy8yxoJBP75D6</div>
<div style="left:192.6px;top:364.5px;width:3px;height:2.2px;background:#f8e0ea;border-radius:0.5px"></div>
<svg style="left:23px;top:306px" width="80" height="50" viewBox="0 0 80 50"><path d="M0.7 7.5 L7 0.8 L13.3 7.5 Z" fill="#eee" stroke="#222" stroke-width="1.2"/><path d="M45.7 7.5 L52 0.8 L58.3 7.5 Z" fill="#eee" stroke="#222" stroke-width="1.2"/><path d="M0.7 25.8 L7 32.5 L13.3 25.8 Z" fill="#eee" stroke="#222" stroke-width="1.2"/><path d="M45.7 25.8 L52 32.5 L58.3 25.8 Z" fill="#eee" stroke="#222" stroke-width="1.2"/><path d="M6 11.5 L11.5 22 L0.5 22 Z" fill="#f5e08a" stroke="#c9b45a" stroke-width="0.8"/><rect x="5.4" y="14.5" width="1.2" height="4" fill="#555"/><rect x="5.4" y="19.5" width="1.2" height="1.2" fill="#555"/><circle cx="49.8" cy="17" r="5.8" fill="#e04040"/><path d="M47.2 14.4 L52.4 19.6 M52.4 14.4 L47.2 19.6" stroke="#fff" stroke-width="1.6"/></svg>
<div class="t" style="left:37.5px;top:318.2px;height:12px;line-height:12px;font-size:9.2px;color:#2a5f80;">1</div>
<div class="t" style="left:80.8px;top:318.2px;height:12px;line-height:12px;font-size:9.2px;color:#3a60b0;">0</div>
<div style="left:13px;top:341.3px;width:81px;height:13.3px;background:#eee;border:1px solid #333;border-radius:1px"></div>
<div class="t" style="left:21.5px;top:341.9px;height:12px;line-height:12px;font-size:10px;color:#222;transform:scaleX(0.92);transform-origin:left">Show Warnings</div>
<div style="left:826.5px;top:178.3px;width:6.2px;height:124px;background:#cfcfcf;border-radius:3px"></div>
<div style="left:350px;top:369px;width:367px;height:6.6px;background:#cfcfcf;border-radius:3px"></div>
</div>
<svg style="left:920px;top:112px" width="66" height="62" viewBox="0 0 66 62"><path d="M27.5 8.5 C28 2.5 38.5 2.5 39.5 9" fill="none" stroke="#1a2a26" stroke-width="2.4"/><path d="M59.6 16.6 L63.5 49 L56.5 51.5" fill="none" stroke="#1a2a26" stroke-width="2.6" stroke-linejoin="round"/><path d="M56.5 26 L59.5 48" fill="none" stroke="#1a2a26" stroke-width="1.6"/><path d="M4.8 18.9 L8.7 16.6 L9.3 13.8 L15 12.7 L16 14.4 L22.3 13.3 L22.3 33.6 L11.6 34.2 Z" fill="#e35b1e" stroke="#1a2a26" stroke-width="2" stroke-linejoin="round"/><path d="M22.3 11.6 L26.8 11 L27.4 8.2 L31.9 8.2 L32.5 10.4 L39.2 11 L39.2 34.2 L22.9 34.2 Z" fill="#1ba3d9" stroke="#1a2a26" stroke-width="2" stroke-linejoin="round"/><path d="M42 11.6 L47.7 13.8 L48.3 16.6 L59.6 16 L53.4 35.9 L39.8 33 Z" fill="#8b4f96" stroke="#1a2a26" stroke-width="2" stroke-linejoin="round"/><path d="M46 15.5 L53 17" stroke="#1a2a26" stroke-width="1.6"/><path d="M9 36.5 L50 35.5 C54 35.5 56 37 56.5 41 L57 51 C57 54.5 55 56 52 56 L18 56 C10 55.5 6 51 5.8 45 C5.8 40 7 37 9 36.5 Z" fill="#17b2a6" stroke="#1a2a26" stroke-width="2.2" stroke-linejoin="round"/><path d="M9 37 C5 40 5 48 8 51 C12 55 20 54 28 50 C38 45 46 40 52.5 36.5" fill="none" stroke="#1a2a26" stroke-width="1.8"/><path d="M11 39.5 C9 43 9 47 12 49 C16 51 22 50 30 46 C38 42 44 38.5 50 37" fill="none" stroke="#1a2a26" stroke-width="1.5"/><path d="M36.5 45 L46 44 L46 50 L34 50.5" fill="none" stroke="#1a2a26" stroke-width="1.4"/></svg>
<svg style="left:950px;top:328px" width="30" height="80" viewBox="0 0 30 80"><circle cx="14" cy="14.5" r="6.3" fill="#fff" stroke="#222" stroke-width="1.3"/><circle cx="14" cy="14.5" r="2.6" fill="#222"/><path d="M14 5.5 V8.2 M14 20.8 V23.5 M5 14.5 H7.7 M20.3 14.5 H23" stroke="#222" stroke-width="1.3"/><circle cx="14" cy="43.7" r="9.3" fill="#fff" stroke="#222" stroke-width="1.3"/><path d="M9 43.7 H19 M14 38.7 V48.7" stroke="#222" stroke-width="1.4"/><circle cx="14" cy="66.7" r="9.3" fill="#fff" stroke="#222" stroke-width="1.3"/><path d="M9 66.7 H19" stroke="#222" stroke-width="1.4"/></svg>
<svg style="left:943px;top:421px" width="30" height="42" viewBox="0 0 30 42"><path d="M10 4 C10 2 11 1.5 12 1.5 H18.5 C19.5 1.5 20.5 2 20.5 4 Z" fill="#1c1c1c"/><path d="M2.5 3.5 H27.5 L29 8.5 H1 Z" fill="#1c1c1c"/><path d="M2.8 10.5 H28 V37 C28 38.5 27 39.2 25.5 39.2 H5.3 C3.8 39.2 2.8 38.5 2.8 37 Z" fill="#1c1c1c"/></svg>
<div style="left:1012px;top:52px;width:12px;height:493px;background:#f1f1f1;"></div>
<div style="left:1013px;top:96px;width:9px;height:400px;background:#c1c1c1;"></div>
<div style="left:1015px;top:57px;width:0;height:0;border-left:3.5px solid transparent;border-right:3.5px solid transparent;border-bottom:3.5px solid #222"></div>
<div style="left:1015px;top:536.5px;width:0;height:0;border-left:3.5px solid transparent;border-right:3.5px solid transparent;border-top:3.5px solid #222"></div>
<div style="left:0px;top:545px;width:1024px;height:30px;background:#1f2b28;"></div>
<svg style="left:11px;top:554px" width="13" height="12" viewBox="0 0 13 12"><path d="M0 1.7 L5.4 1 V5.6 H0Z M6.2 0.9 L13 0 V5.6 H6.2Z M0 6.4 H5.4 V11 L0 10.3Z M6.2 6.4 H13 V12 L6.2 11.1Z" fill="#fff"/></svg>
<svg style="left:47px;top:553px" width="14" height="14" viewBox="0 0 14 14"><rect x="1.5" y="3" width="8" height="8" fill="none" stroke="#fff" stroke-width="1.2"/><path d="M1 1 H10 M1 13 H10 M12.5 1 V5 M12.5 7 V13" stroke="#fff" stroke-width="1.2"/></svg>
<div style="left:77px;top:553px;width:1px;height:14px;background:#5a6461;"></div>
<div style="left:79px;top:553px;width:1px;height:14px;background:#5a6461;"></div>
<div style="left:168.8px;top:545px;width:81.2px;height:30px;background:#39443f;"></div>
<div style="left:91.4px;top:573px;width:74.8px;height:2px;background:#8ad8e8;"></div>
<div style="left:168.8px;top:573px;width:81.2px;height:2px;background:#8ad8e8;"></div>
<svg style="left:96px;top:553px" width="19" height="19" viewBox="0 0 19 19"><circle cx="9" cy="9" r="8.5" fill="#db4437"/><path d="M9 9 L1.6 13.3 A8.5 8.5 0 0 0 9 17.5Z" fill="#0f9d58"/><path d="M9 9 L1.6 13.3 A8.5 8.5 0 0 1 0.8 6 Z" fill="#0f9d58"/><path d="M9 9 L16.4 4.7 A8.5 8.5 0 0 1 12 17Z" fill="#f4b400"/><circle cx="9" cy="9" r="3.8" fill="#fff"/><circle cx="9" cy="9" r="2.9" fill="#4285f4"/><circle cx="13.5" cy="13.5" r="5" fill="#f5d020"/><path d="M10.5 11 L17 14 L14 18.5 Z" fill="#e0392e"/><circle cx="12" cy="15.5" r="3" fill="#c8b6ea"/></svg>
<div class="t" style="left:116px;top:553.5px;height:14px;line-height:14px;font-size:8.9px;color:#fff;-webkit-text-stroke:0.3px #fff">MIT App I...</div>
<svg style="left:176px;top:553px" width="19" height="19" viewBox="0 0 19 19"><circle cx="9" cy="9" r="8.5" fill="#db4437"/><path d="M9 9 L1.6 13.3 A8.5 8.5 0 0 0 9 17.5Z" fill="#0f9d58"/><path d="M9 9 L1.6 13.3 A8.5 8.5 0 0 1 0.8 6 Z" fill="#0f9d58"/><path d="M9 9 L16.4 4.7 A8.5 8.5 0 0 1 12 17Z" fill="#f4b400"/><circle cx="9" cy="9" r="3.8" fill="#fff"/><circle cx="9" cy="9" r="2.9" fill="#4285f4"/><circle cx="13.5" cy="13.5" r="5" fill="#f5d020"/><path d="M10.5 11 L17 14 L14 18.5 Z" fill="#e0392e"/><circle cx="12" cy="15.5" r="3" fill="#c8b6ea"/></svg>
<div class="t" style="left:196.7px;top:553.5px;height:14px;line-height:14px;font-size:8.9px;color:#fff;-webkit-text-stroke:0.3px #fff">MIT App I...</div>
<svg style="left:257px;top:551px" width="17" height="17" viewBox="0 0 17 17"><path d="M5 4 C5 0.5 12 0.5 12 4" fill="none" stroke="#fff" stroke-width="1.2"/><rect x="1" y="4" width="15" height="12.5" rx="1" fill="#fff"/><rect x="4.5" y="7" width="3.6" height="3.6" fill="#f25022"/><rect x="8.9" y="7" width="3.6" height="3.6" fill="#7fba00"/><rect x="4.5" y="11.4" width="3.6" height="3.6" fill="#00a4ef"/><rect x="8.9" y="11.4" width="3.6" height="3.6" fill="#ffb900"/></svg>
<svg style="left:289px;top:551px" width="18" height="17" viewBox="0 0 18 17"><path d="M1 6 L9 0.5 L17 6 V16 H1Z" fill="#2d8fe0"/><path d="M3 5 H15 V11 L9 13 L3 11Z" fill="#fff"/><path d="M1 6 L9 11.5 L17 6 V16 H1Z" fill="#3aa0f0"/></svg>
<svg style="left:323px;top:551px" width="18" height="18" viewBox="0 0 18 18"><circle cx="9" cy="9" r="8" fill="#e8561d"/><circle cx="10" cy="8" r="5" fill="#3b5fb5"/><path d="M2 6 C3 14 12 17 16 10 C15 14 9 15 6 12 C4 10 4 7 6 5 C3 5 2 6 2 6Z" fill="#f7a11a"/></svg>
<svg style="left:356px;top:551px" width="18" height="18" viewBox="0 0 18 18"><rect x="0.5" y="0.5" width="17" height="17" fill="#3892d8"/><path d="M0.5 17.5 L7 8 L12 13 L17.5 9 V17.5Z" fill="#1a4c8f"/><circle cx="13" cy="4.5" r="1.6" fill="#fff"/></svg>
<svg style="left:389px;top:552px" width="18" height="16" viewBox="0 0 18 16"><path d="M0.5 1 H7 L8.5 3 H17.5 V15 H0.5Z" fill="#e9b63a"/><rect x="0.5" y="5" width="17" height="10" fill="#f7d66b"/><rect x="5" y="9" width="8" height="4" fill="#2b7ed8"/></svg>
<svg style="left:422px;top:551px" width="18" height="17" viewBox="0 0 18 17"><path d="M9 1 L17 5 L9 9 L1 5Z" fill="#7dc23a"/><path d="M1 5 L9 9 V16 L1 12Z" fill="#e8a51f"/><path d="M17 5 L9 9 V16 L17 12Z" fill="#d84634"/><path d="M1 9 L9 13 L17 9 V12 L9 16 L1 12Z" fill="#3b88d8" opacity="0.6"/></svg>
<svg style="left:455px;top:551px" width="18" height="18" viewBox="0 0 18 18"><circle cx="9" cy="9" r="8.5" fill="#1f8fd6"/><path d="M2 8 C3 1 15 1 16.5 8 C16.5 11 13 12 10 11 C13 10 12 6 9 6 C5 6 3 9 4 13 C2 11.5 2 10 2 8Z" fill="#5fd06a"/><circle cx="10" cy="10" r="3" fill="#fff"/><circle cx="10" cy="10" r="2.2" fill="#1f8fd6"/></svg>
<svg style="left:487px;top:551px" width="17" height="17" viewBox="0 0 17 17"><rect x="0" y="0" width="17" height="17" rx="5" fill="#2d8cff"/><rect x="3" y="5.5" width="7.5" height="6" rx="1.2" fill="#fff"/><path d="M11 7.5 L14 5.5 V11.5 L11 9.5Z" fill="#fff"/></svg>
<div class="t" style="left:507px;top:553.5px;height:14px;line-height:14px;font-size:8.9px;color:#fff;-webkit-text-stroke:0.3px #fff">Zoom</div>
<svg style="left:567.5px;top:551px" width="17" height="17" viewBox="0 0 17 17"><rect x="0" y="0" width="17" height="17" rx="5" fill="#2d8cff"/><rect x="3" y="5.5" width="7.5" height="6" rx="1.2" fill="#fff"/><path d="M11 7.5 L14 5.5 V11.5 L11 9.5Z" fill="#fff"/></svg>
<div class="t" style="left:588px;top:553.5px;height:14px;line-height:14px;font-size:8.9px;color:#fff;-webkit-text-stroke:0.3px #fff">Zoom Me...</div>
<svg style="left:646px;top:550px" width="19" height="19" viewBox="0 0 19 19"><ellipse cx="8" cy="11" rx="7.5" ry="6" fill="#e8e8e8"/><circle cx="4.5" cy="10" r="1.4" fill="#e23b2e"/><circle cx="7" cy="7.5" r="1.4" fill="#2d8cff"/><circle cx="10.5" cy="8" r="1.4" fill="#7dc23a"/><circle cx="5.5" cy="13.5" r="1.4" fill="#f5c400"/><path d="M17.5 1 L10 14" stroke="#d08a2a" stroke-width="2.2"/></svg>
<div class="t" style="left:668px;top:553.5px;height:14px;line-height:14px;font-size:8.9px;color:#fff;-webkit-text-stroke:0.3px #fff">Untitled - ...</div>
<div style="left:482.7px;top:573px;width:75.3px;height:2px;background:#8ad8e8;"></div>
<div style="left:563.4px;top:573px;width:73.6px;height:2px;background:#8ad8e8;"></div>
<div style="left:644px;top:573px;width:74px;height:2px;background:#8ad8e8;"></div>
<div style="left:725px;top:551px;width:38px;height:17px;background:#000;border:1.5px solid #ddd"></div>
<div style="left:727px;top:553px;width:24px;height:13px;background:#1a8a3a;"></div>
<div style="left:763px;top:555px;width:2px;height:8px;background:#ddd;"></div>
<div class="t" style="left:731px;top:553px;height:14px;line-height:14px;font-size:10.5px;color:#fff;">59%</div>
<svg style="left:782px;top:555px" width="11" height="8" viewBox="0 0 11 8"><path d="M1 7 L5.5 2 L10 7" stroke="#fff" stroke-width="1.3" fill="none"/></svg>
<svg style="left:800px;top:551px" width="10" height="16" viewBox="0 0 10 16"><rect x="2.5" y="0.5" width="5" height="9" rx="2.5" fill="#fff"/><path d="M1 7 C1 12 9 12 9 7 M5 11 V14 M2.5 15 H7.5" stroke="#fff" stroke-width="1.1" fill="none"/></svg>
<svg style="left:816px;top:551px" width="16" height="16" viewBox="0 0 16 16"><circle cx="8" cy="8" r="7.5" fill="#e0202a"/><path d="M3 10 C6 4 11 3 13 5 C11 4 7 6 5 11Z M4 12 C8 11 11 9 13 7" stroke="#fff" stroke-width="1.3" fill="none"/></svg>
<svg style="left:834px;top:550px" width="16" height="17" viewBox="0 0 16 17"><path d="M7 0.5 L13 2.5 V7 C13 11 10.5 13.5 7 14.5 C3.5 13.5 1 11 1 7 V2.5Z" fill="#fff"/><path d="M7 1.5 V13.5 M1.5 7.5 H12.5" stroke="#1f2b28" stroke-width="1"/><path d="M7 1.5 L12.5 3 V7.5 H7Z M1.5 7.5 H7 V13.5 C3.5 12.5 1.5 10.5 1.5 7.5Z" fill="#1f2b28"/><circle cx="12" cy="13" r="3.5" fill="#2cb24a"/><path d="M10.3 13 L11.6 14.3 L13.8 11.8" stroke="#fff" stroke-width="1" fill="none"/></svg>
<svg style="left:852px;top:555px" width="15" height="9" viewBox="0 0 15 9"><rect x="0.5" y="0.5" width="12" height="8" fill="none" stroke="#fff" stroke-width="1.1"/><rect x="2.5" y="2.5" width="6" height="4" fill="#fff"/><rect x="13" y="3" width="1.6" height="3" fill="#fff"/></svg>
<svg style="left:871px;top:552px" width="14" height="14" viewBox="0 0 14 14"><path d="M1 5 H3.5 L7 2 V12 L3.5 9 H1Z" fill="none" stroke="#fff" stroke-width="1.1"/><path d="M9 4.5 C10.5 6 10.5 8 9 9.5 M11 3 C13.5 5.5 13.5 8.5 11 11" stroke="#fff" stroke-width="1" fill="none"/></svg>
<svg style="left:889px;top:552px" width="15" height="14" viewBox="0 0 15 14"><path d="M2 13 C2 7 7 2 13 2 M5 13 C5 9 9 5 13 5 M8 13 C8 10.5 10.5 8 13 8" stroke="#ccc" stroke-width="1.2" fill="none"/><circle cx="12" cy="12" r="1.3" fill="#fff"/></svg>
<div class="t" style="left:909.5px;top:547.5px;height:12px;line-height:12px;font-size:9px;color:#fff;transform:scaleX(0.82);transform-origin:left">ENG</div>
<div class="t" style="left:912.5px;top:560px;height:12px;line-height:12px;font-size:9px;color:#fff;transform:scaleX(0.82);transform-origin:left">IN</div>
<div class="t" style="left:947.6px;top:547.5px;height:12px;line-height:12px;font-size:9px;color:#fff;transform:scaleX(0.88);transform-origin:left">11:41</div>
<div class="t" style="left:937px;top:560px;height:12px;line-height:12px;font-size:9px;color:#fff;transform:scaleX(0.88);transform-origin:left">16-07-2020</div>
<svg style="left:992px;top:551px" width="15" height="16" viewBox="0 0 15 16"><path d="M1 1 H13 V11 H8 L5 14 V11 H1Z" fill="none" stroke="#fff" stroke-width="1.1"/><path d="M3.5 4 H10.5 M3.5 6.5 H10.5 M3.5 9 H8" stroke="#fff" stroke-width="1"/></svg>
</body></html>
